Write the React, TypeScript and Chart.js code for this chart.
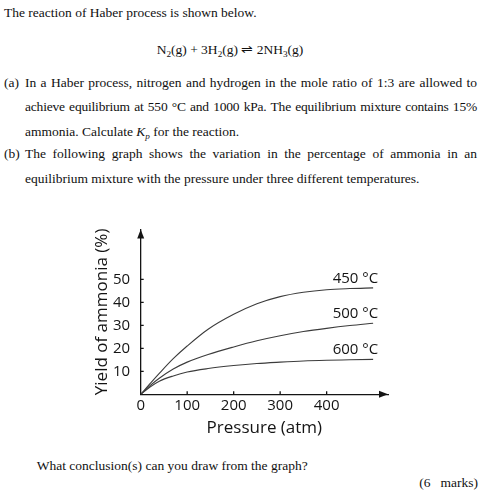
import React, { useEffect, useRef } from "react";
import { Chart, registerables } from "chart.js";

Chart.register(...registerables);

// ---- data ----
const pressures = [0, 20, 40, 70, 100, 145, 200, 250, 300, 350, 400, 450, 500];
const yield450 = [0, 4.6, 9.1, 15.5, 21.0, 28.3, 34.8, 39.4, 42.5, 44.4, 45.5, 46.0, 46.3];
const yield500 = [0, 3.8, 7.0, 11.0, 14.0, 17.3, 20.6, 23.3, 25.5, 27.3, 28.7, 29.9, 30.9];
const yield600 = [0, 3.2, 5.7, 8.0, 9.7, 11.2, 12.5, 13.4, 14.0, 14.5, 14.8, 15.0, 15.2];
const seriesLabels = ["450 °C", "500 °C", "600 °C"];
const xTicks = [0, 100, 200, 300, 400];
const yTicks = [10, 20, 30, 40, 50];
const xTitle = "Pressure (atm)";
const yTitle = "Yield of ammonia (%)";
const xMax = 532;
const yMax = 71.7;

const sans = '"Open Sans", "Noto Sans", sans-serif';
const serif = '"Liberation Serif", "Times New Roman", serif';
const ink = "#141414";

const decorPlugin = {
  id: "decor",
  afterDraw(chart: any) {
    const { ctx, chartArea } = chart;
    const x = chart.scales.x;
    const y = chart.scales.y;
    const x0 = x.getPixelForValue(0);
    const y0 = y.getPixelForValue(0);
    ctx.save();
    ctx.fillStyle = ink;
    ctx.strokeStyle = ink;
    ctx.lineWidth = 1.3;
    // arrow heads
    const yTop = chartArea.top;
    ctx.beginPath();
    ctx.moveTo(x0, yTop);
    ctx.lineTo(x0 - 3.5, yTop + 9);
    ctx.lineTo(x0 + 3.5, yTop + 9);
    ctx.closePath();
    ctx.fill();
    const xRight = chartArea.right;
    ctx.beginPath();
    ctx.moveTo(xRight, y0);
    ctx.lineTo(xRight - 9, y0 - 3.5);
    ctx.lineTo(xRight - 9, y0 + 3.5);
    ctx.closePath();
    ctx.fill();
    // inward tick marks
    ctx.beginPath();
    yTicks.forEach((v) => {
      const py = y.getPixelForValue(v);
      ctx.moveTo(x0, py);
      ctx.lineTo(x0 + 3, py);
    });
    xTicks.slice(1).forEach((v) => {
      const px = x.getPixelForValue(v);
      ctx.moveTo(px, y0);
      ctx.lineTo(px, y0 - 3);
    });
    ctx.stroke();
    // curve labels
    ctx.font = `15px ${sans}`;
    ctx.textAlign = "right";
    ctx.textBaseline = "middle";
    chart.data.datasets.forEach((ds: any, i: number) => {
      const last = ds.data[ds.data.length - 1];
      const px = x.getPixelForValue(last.x) + 5;
      const py = y.getPixelForValue(last.y) - 9.5;
      ctx.fillText(seriesLabels[i], px, py);
    });
    ctx.restore();
  },
};

function ChartBox() {
  const ref = useRef<HTMLCanvasElement | null>(null);
  useEffect(() => {
    if (!ref.current) return;
    const mk = (vals: number[]) => pressures.map((p, i) => ({ x: p, y: vals[i] }));
    const lineStyle = {
      borderColor: "#3c3c3c",
      borderWidth: 1.1,
      pointRadius: 0,
      fill: false,
      cubicInterpolationMode: "monotone" as const,
    };
    const chart = new Chart(ref.current, {
      type: "line",
      data: {
        datasets: [
          { label: seriesLabels[0], data: mk(yield450), ...lineStyle },
          { label: seriesLabels[1], data: mk(yield500), ...lineStyle },
          { label: seriesLabels[2], data: mk(yield600), ...lineStyle },
        ],
      },
      options: {
        responsive: false,
        animation: false,
        events: [],
        layout: { padding: { top: 19.3, right: 102, bottom: 0, left: 0 } },
        plugins: { legend: { display: false }, tooltip: { enabled: false } },
        scales: {
          x: {
            type: "linear",
            min: 0,
            max: xMax,
            grid: { display: false, drawTicks: false },
            border: { display: true, color: ink, width: 1.3 },
            afterBuildTicks: (s: any) => {
              s.ticks = xTicks.map((v) => ({ value: v }));
            },
            afterFit: (s: any) => {
              s.height = 55.7;
            },
            ticks: {
              padding: 2.7,
              maxRotation: 0,
              color: ink,
              font: { family: sans, size: 15 },
              callback: (v: any) => String(v),
            },
            title: {
              display: true,
              text: xTitle,
              color: ink,
              font: { family: sans, size: 17 },
              padding: { top: 0, bottom: 11.8 },
            },
          },
          y: {
            type: "linear",
            min: 0,
            max: yMax,
            grid: { display: false, drawTicks: false },
            border: { display: true, color: ink, width: 1.3 },
            afterBuildTicks: (s: any) => {
              s.ticks = yTicks.map((v) => ({ value: v }));
            },
            afterFit: (s: any) => {
              s.width = 140.7;
            },
            ticks: {
              padding: 10.5,
              color: ink,
              font: { family: sans, size: 15 },
              callback: (v: any) => String(v),
            },
            title: {
              display: true,
              text: yTitle,
              color: ink,
              font: { family: sans, size: 17 },
              padding: { top: 91.5, bottom: 0 },
            },
          },
        },
      },
      plugins: [decorPlugin],
    });
    return () => chart.destroy();
  }, []);
  return (
    <canvas
      ref={ref}
      width={490}
      height={240}
      style={{ position: "absolute", left: 0, top: 210, width: 490, height: 240 }}
    />
  );
}

const base: React.CSSProperties = {
  position: "absolute",
  fontFamily: serif,
  fontSize: 13.5,
  lineHeight: "20px",
  color: "#111",
};
const just: React.CSSProperties = {
  ...base,
  left: 25,
  width: 452,
  textAlign: "justify",
  textAlignLast: "justify" as any,
};
const subS: React.CSSProperties = { fontSize: "0.68em", verticalAlign: "-0.3em", lineHeight: 0 };

export default function App() {
  return (
    <div style={{ position: "absolute", left: 0, top: 0, width: 490, height: 500, background: "#fff", overflow: "hidden" }}>
      <div style={{ ...base, left: 4, top: 3.3, whiteSpace: "nowrap" }}>
        The reaction of Haber process is shown below.
      </div>
      <div style={{ ...base, left: 0, width: 460, top: 40, textAlign: "center", whiteSpace: "nowrap" }}>
        N<sub style={subS}>2</sub>(g) + 3H<sub style={subS}>2</sub>(g) ⇌ 2NH<sub style={subS}>3</sub>(g)
      </div>
      <div style={{ ...base, left: 4, top: 73.3 }}>(a)</div>
      <div style={{ ...just, top: 73.3 }}>
        In a Haber process, nitrogen and hydrogen in the mole ratio of 1:3 are allowed to
      </div>
      <div style={{ ...just, top: 97, letterSpacing: "-0.2px", wordSpacing: "-1.5px" }}>
        achieve equilibrium at 550 °C and 1000 kPa. The equilibrium mixture contains 15%
      </div>
      <div style={{ ...base, left: 25, top: 122.3, whiteSpace: "nowrap" }}>
        ammonia. Calculate <i>K</i><sub style={{ ...subS, fontStyle: "italic" }}>p</sub> for the reaction.
      </div>
      <div style={{ ...base, left: 4, top: 144.3 }}>(b)</div>
      <div style={{ ...just, top: 144.3 }}>
        The following graph shows the variation in the percentage of ammonia in an
      </div>
      <div style={{ ...base, left: 25, top: 169, whiteSpace: "nowrap" }}>
        equilibrium mixture with the pressure under three different temperatures.
      </div>
      <ChartBox />
      <div style={{ ...base, left: 36.7, top: 456, whiteSpace: "nowrap" }}>
        What conclusion(s) can you draw from the graph?
      </div>
      <div style={{ ...base, left: 0, width: 478, top: 472.7, textAlign: "right", whiteSpace: "pre" }}>
        (6   marks)
      </div>
    </div>
  );
}
